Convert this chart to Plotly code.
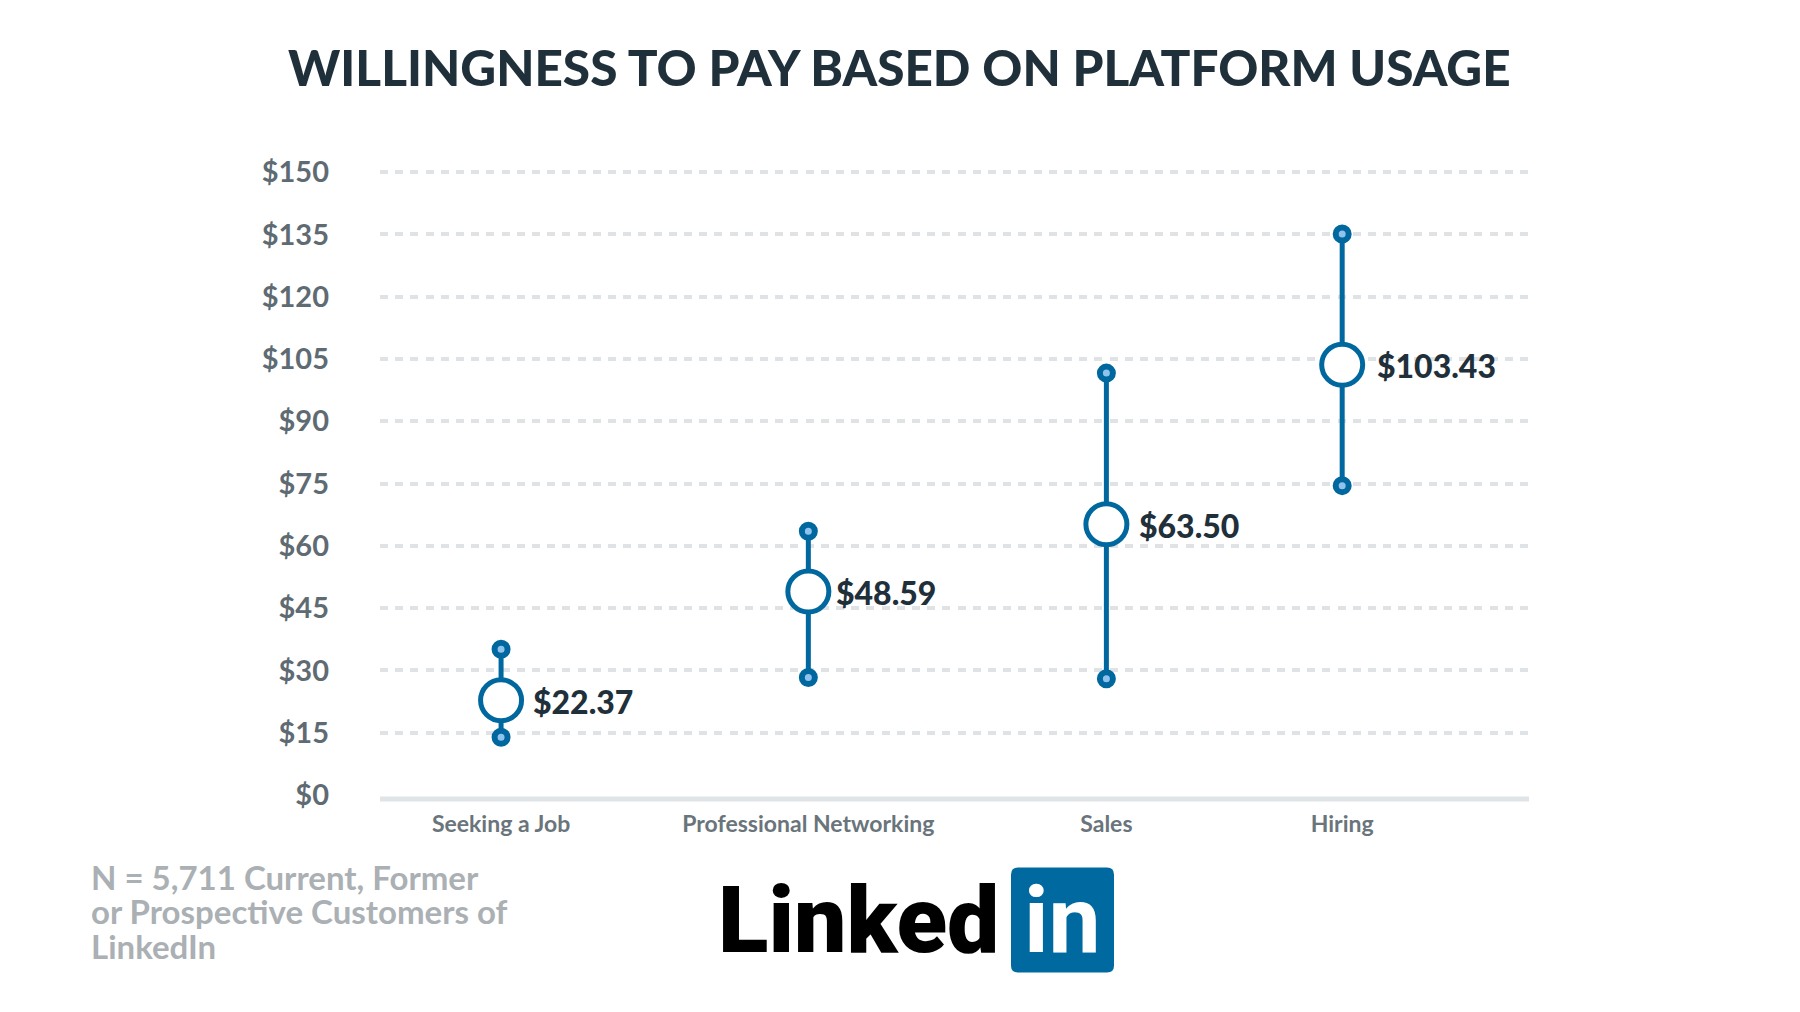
import plotly.graph_objects as go

# Values
categories = ["Seeking a Job", "Professional Networking", "Sales", "Hiring"]
category_pos = [10.5, 37.15, 63.0, 83.45]  # the categories are unevenly spaced in the original
mid_values = [22.8, 49.0, 65.2, 103.6]
low_values = [13.9, 28.3, 28.0, 74.5]
high_values = [35.1, 63.5, 101.6, 135.1]
value_labels = ["$22.37", "$48.59", "$63.50", "$103.43"]
y_ticks = [0, 15, 30, 45, 60, 75, 90, 105, 120, 135, 150]
y_ticklabels = ["$" + str(v) for v in y_ticks]
footnote_lines = ["N = 5,711 Current, Former", "or Prospective Customers of", "LinkedIn"]

W, H = 1800, 1012
# BOTTOM is y=0; the solid baseline in the original sits a few px under it
LEFT, RIGHT, TOP, BOTTOM = 380, 1533, 168, 795.4
BASELINE = 799.3
BLUE = "#00689f"
TEXT_FONT = "Lato"
label_shifts = [29.5, 26, 31, 33]


def px(x):
    return (x - LEFT) / (RIGHT - LEFT)


def py(y):
    return (BOTTOM - y) / (BOTTOM - TOP)


fig = go.Figure()

# stems + big open circles
fig.add_trace(go.Scatter(
    x=category_pos, y=mid_values, mode="markers", cliponaxis=False,
    error_y=dict(type="data", symmetric=False,
                 array=[h - m for h, m in zip(high_values, mid_values)],
                 arrayminus=[m - l for m, l in zip(mid_values, low_values)],
                 thickness=5, width=0, color=BLUE),
    marker=dict(size=41, color="white", line=dict(color=BLUE, width=5)),
))
# small end dots
fig.add_trace(go.Scatter(
    x=category_pos + category_pos, y=low_values + high_values, mode="markers", cliponaxis=False,
    marker=dict(size=13, color="#8fc3ee", line=dict(color=BLUE, width=6)),
))

# value labels
for x, y, label, shift in zip(category_pos, mid_values, value_labels, label_shifts):
    fig.add_annotation(x=x, y=y, text=label, showarrow=False, xanchor="left", xshift=shift, yshift=-1,
                       font=dict(family=TEXT_FONT, size=32, color="#1f303b", weight=900))

# title
fig.add_annotation(xref="paper", yref="paper", x=px(899), y=py(67), text="WILLINGNESS TO PAY BASED ON PLATFORM USAGE",
                   showarrow=False, xanchor="center", yanchor="middle",
                   font=dict(family=TEXT_FONT, size=49.5, color="#1f303b", weight=900))

# footnote, one annotation per line for the tight leading
for line, y in zip(footnote_lines, [877, 911, 946]):
    fig.add_annotation(xref="paper", yref="paper", x=px(89), y=py(y), text=line, showarrow=False,
                       xanchor="left", yanchor="middle",
                       font=dict(family=TEXT_FONT, size=33, color="#aab0b4", weight=700))

# baseline
fig.add_shape(type="line", xref="paper", yref="paper", x0=0, x1=px(1529), y0=py(BASELINE), y1=py(BASELINE),
              line=dict(color="#e1e4e7", width=5))

# LinkedIn logo
x0, x1, y0, y1, r = px(1011), px(1114), py(973), py(868), 7
rx, ry = r / (RIGHT - LEFT), r / (BOTTOM - TOP)
fig.add_shape(type="path", xref="paper", yref="paper", line_width=0, fillcolor="#0069a0",
              path=f"M {x0+rx} {y0} L {x1-rx} {y0} Q {x1} {y0} {x1} {y0+ry} L {x1} {y1-ry} Q {x1} {y1} {x1-rx} {y1} "
                   f"L {x0+rx} {y1} Q {x0} {y1} {x0} {y1-ry} L {x0} {y0+ry} Q {x0} {y0} {x0+rx} {y0} Z")
fig.add_annotation(xref="paper", yref="paper", x=px(858), y=py(921), xanchor="center", yanchor="middle", text="Linked",
                   showarrow=False, font=dict(family="Roboto", size=93, color="black", weight=900))
fig.add_annotation(xref="paper", yref="paper", x=px(1062), y=py(921), xanchor="center", yanchor="middle", text="in",
                   showarrow=False, font=dict(family="Roboto", size=93, color="white", weight=700))

fig.update_layout(
    width=W, height=H, showlegend=False,
    paper_bgcolor="white", plot_bgcolor="white",
    margin=dict(l=LEFT, r=W - RIGHT, t=TOP, b=H - BOTTOM, pad=0),
    xaxis=dict(range=[0, 100], tickmode="array", tickvals=category_pos, ticktext=categories,
               showgrid=False, zeroline=False, showline=False, ticks="", ticklabelstandoff=13,
               tickfont=dict(family=TEXT_FONT, size=23, color="#69747b", weight=700)),
    yaxis=dict(range=[0, 151], tickmode="array", tickvals=y_ticks, ticktext=y_ticklabels,
               showgrid=True, gridcolor="#e0e3e6", gridwidth=4, griddash="8px,7.2px",
               zeroline=False, showline=False, ticks="",
               ticklabelstandoff=50,
               tickfont=dict(family=TEXT_FONT, size=29, color="#5f6b73", weight=700)),
)

fig.write_html("out.html", post_script="document.body.style.margin='0';", config={"displayModeBar": False})
